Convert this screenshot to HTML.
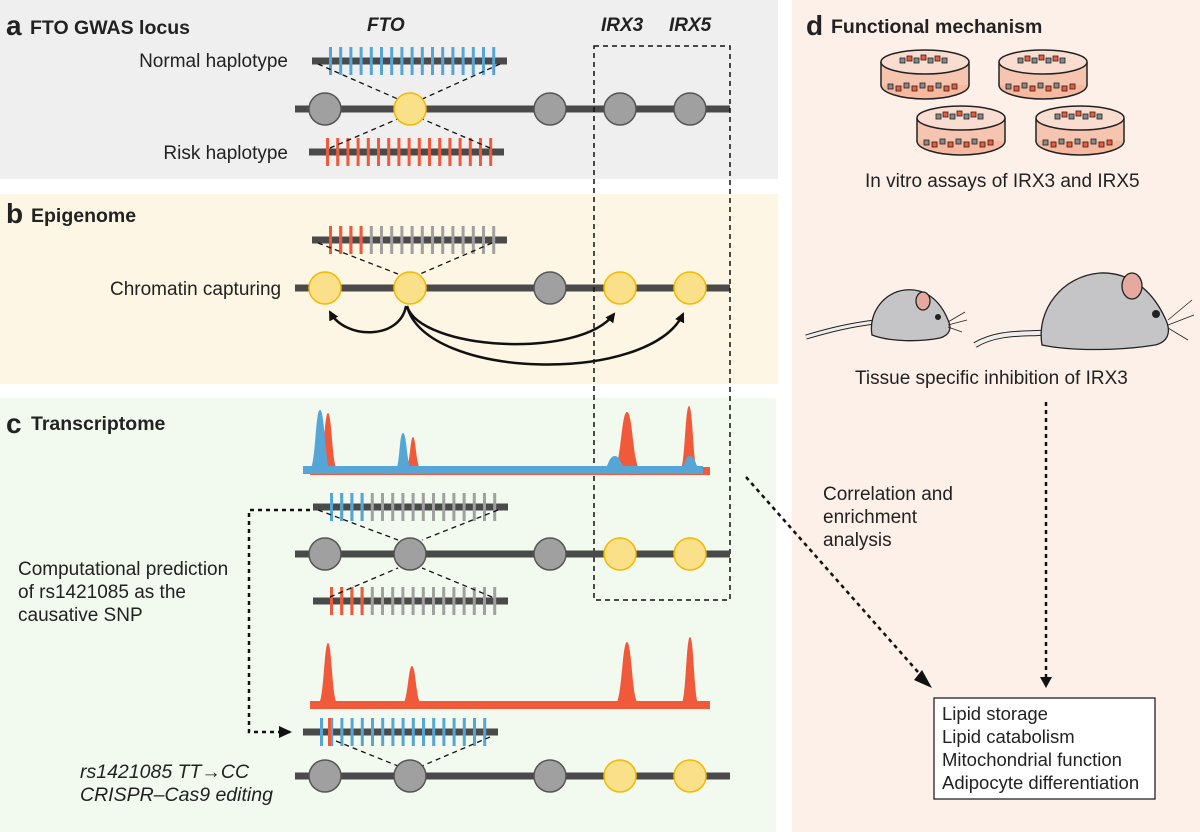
<!DOCTYPE html>
<html><head><meta charset="utf-8"><style>
html,body{margin:0;padding:0;background:#fff}
svg{display:block;font-family:"Liberation Sans",Arial,sans-serif}
</style></head><body>
<svg width="1200" height="832" viewBox="0 0 1200 832" xmlns="http://www.w3.org/2000/svg">
<defs>
<marker id="ah" markerWidth="10" markerHeight="10" refX="8" refY="5" orient="auto" markerUnits="userSpaceOnUse"><path d="M0,0 L10,5 L0,10 z" fill="#111"/></marker>
<marker id="ah2" markerWidth="14" markerHeight="14" refX="11" refY="7" orient="auto" markerUnits="userSpaceOnUse"><path d="M0,1 L13,7 L0,13 z" fill="#111"/></marker>
</defs>
<rect x="0" y="0" width="778" height="179" fill="#efefef"/>
<rect x="0" y="194" width="778" height="190" fill="#fdf6e4"/>
<rect x="0" y="398" width="776" height="434" fill="#f2f9ee"/>
<rect x="792" y="0" width="408" height="832" fill="#fdf0e8"/>

<!-- Panel a -->
<text x="6" y="35" font-size="28" font-weight="bold" fill="#222">a</text>
<text x="30" y="34" font-size="19.5" font-weight="bold" fill="#222">FTO GWAS locus</text>
<text x="367" y="31" font-size="19" font-weight="bold" font-style="italic" fill="#222">FTO</text>
<text x="601" y="31" font-size="19" font-weight="bold" font-style="italic" fill="#222">IRX3</text>
<text x="669" y="31" font-size="19" font-weight="bold" font-style="italic" fill="#222">IRX5</text>
<text x="288" y="67" font-size="19" fill="#222" text-anchor="end">Normal haplotype</text>
<text x="288" y="159" font-size="19" fill="#222" text-anchor="end">Risk haplotype</text>
<line x1="312" y1="61" x2="507" y2="61" stroke="#4a4a4a" stroke-width="7"/>
<line x1="329" y1="61" x2="496" y2="61" stroke="#55a6d6" stroke-width="28" stroke-dasharray="3 7.2"/>
<line x1="309" y1="152" x2="504" y2="152" stroke="#4a4a4a" stroke-width="7"/>
<line x1="326" y1="152" x2="493" y2="152" stroke="#f05a3a" stroke-width="28" stroke-dasharray="3 7.2"/>
<g stroke="#111" stroke-width="1.3" stroke-dasharray="5 4" fill="none">
<path d="M318,64 L400,100 M500,64 L420,100 M330,148 L400,118 M490,148 L420,118"/>
</g>
<line x1="295" y1="109" x2="730" y2="109" stroke="#4a4a4a" stroke-width="7"/>
<g stroke="#555" stroke-width="1.5" fill="#a0a0a0">
<circle cx="325" cy="109" r="16"/><circle cx="550" cy="109" r="16"/><circle cx="620" cy="109" r="16"/><circle cx="690" cy="109" r="16"/>
</g>
<circle cx="410" cy="109" r="16" fill="#fbe08a" stroke="#f5b800" stroke-width="1.5"/>

<!-- Panel b -->
<text x="6" y="223" font-size="28" font-weight="bold" fill="#222">b</text>
<text x="31" y="222" font-size="19.5" font-weight="bold" fill="#222">Epigenome</text>
<text x="110" y="295" font-size="19" fill="#222">Chromatin capturing</text>
<line x1="312" y1="240" x2="507" y2="240" stroke="#4a4a4a" stroke-width="7"/>
<line x1="329" y1="240" x2="496" y2="240" stroke="#a0a0a0" stroke-width="28" stroke-dasharray="3 7.2"/>
<line x1="329" y1="240" x2="363" y2="240" stroke="#f05a3a" stroke-width="28" stroke-dasharray="3 7.2"/>
<g stroke="#111" stroke-width="1.3" stroke-dasharray="5 4" fill="none">
<path d="M318,243 L398,274 M492,243 L420,274"/>
</g>
<line x1="295" y1="288" x2="730" y2="288" stroke="#4a4a4a" stroke-width="7"/>
<g stroke="#f5b800" stroke-width="1.5" fill="#fbe08a">
<circle cx="325" cy="288" r="16"/><circle cx="410" cy="288" r="16"/><circle cx="620" cy="288" r="16"/><circle cx="690" cy="288" r="16"/>
</g>
<circle cx="550" cy="288" r="16" fill="#a0a0a0" stroke="#555" stroke-width="1.5"/>
<g stroke="#111" stroke-width="2.5" fill="none">
<path d="M406,306 C400,340 345,340 330,312" marker-end="url(#ah)"/>
<path d="M407,306 C420,350 580,360 614,314" marker-end="url(#ah)"/>
<path d="M407,306 C425,380 650,385 683,314" marker-end="url(#ah)"/>
</g>

<rect x="594" y="46" width="136" height="554" fill="none" stroke="#111" stroke-width="1.5" stroke-dasharray="5 4"/>

<!-- Panel c -->
<text x="6" y="433" font-size="28" font-weight="bold" fill="#222">c</text>
<text x="31" y="430" font-size="19.5" font-weight="bold" fill="#222">Transcriptome</text>
<g fill="#f05a3a">
<rect x="310" y="467" width="400" height="8"/>
<path d="M318,470 C324,470 324,413 328,413 C332,413 332,470 338,470 z"/>
<path d="M405,470 C410,470 410,437 413,437 C416,437 416,470 422,470 z"/>
<path d="M613,470 C621,470 621,412 627,412 C633,412 633,470 641,470 z"/>
<path d="M680,470 C685,470 685,406 689,406 C693,406 693,470 698,470 z"/>
</g>
<g fill="#55a6d6">
<rect x="303" y="466" width="400" height="8"/>
<path d="M309,470 C316,470 315,410 320,410 C325,410 325,470 331,470 z"/>
<path d="M395,470 C400,470 399,433 403,433 C407,433 407,470 412,470 z"/>
<path d="M603,470 C608,470 608,456 615,456 C621,456 622,470 627,470 z"/>
<path d="M680,470 C685,470 684,456 690,456 C696,456 696,470 701,470 z"/>
</g>
<line x1="313" y1="507" x2="508" y2="507" stroke="#4a4a4a" stroke-width="7"/>
<line x1="330" y1="507" x2="497" y2="507" stroke="#a0a0a0" stroke-width="28" stroke-dasharray="3 7.2"/>
<line x1="330" y1="507" x2="364" y2="507" stroke="#55a6d6" stroke-width="28" stroke-dasharray="3 7.2"/>
<line x1="313" y1="601" x2="508" y2="601" stroke="#4a4a4a" stroke-width="7"/>
<line x1="330" y1="601" x2="497" y2="601" stroke="#a0a0a0" stroke-width="28" stroke-dasharray="3 7.2"/>
<line x1="330" y1="601" x2="364" y2="601" stroke="#f05a3a" stroke-width="28" stroke-dasharray="3 7.2"/>
<g stroke="#111" stroke-width="1.3" stroke-dasharray="5 4" fill="none">
<path d="M318,510 L398,540 M498,510 L422,540 M330,597 L398,568 M492,597 L422,568"/>
</g>
<line x1="295" y1="554" x2="730" y2="554" stroke="#4a4a4a" stroke-width="7"/>
<g stroke="#555" stroke-width="1.5" fill="#a0a0a0">
<circle cx="325" cy="554" r="16"/><circle cx="410" cy="554" r="16"/><circle cx="550" cy="554" r="16"/>
</g>
<g stroke="#f5b800" stroke-width="1.5" fill="#fbe08a">
<circle cx="620" cy="554" r="16"/><circle cx="690" cy="554" r="16"/>
</g>
<text x="18" y="575" font-size="19" fill="#222">Computational prediction</text>
<text x="18" y="598" font-size="19" fill="#222">of rs1421085 as the</text>
<text x="18" y="621" font-size="19" fill="#222">causative SNP</text>
<g fill="#f05a3a">
<rect x="310" y="701" width="400" height="8"/>
<path d="M318,704 C324,704 324,643 328,643 C332,643 332,704 338,704 z"/>
<path d="M402,704 C408,704 408,666 412,666 C416,666 416,704 422,704 z"/>
<path d="M615,704 C622,704 622,642 627,642 C632,642 632,704 639,704 z"/>
<path d="M681,704 C686,704 686,637 690,637 C694,637 694,704 699,704 z"/>
</g>
<line x1="303" y1="732" x2="498" y2="732" stroke="#4a4a4a" stroke-width="7"/>
<line x1="320" y1="732" x2="487" y2="732" stroke="#55a6d6" stroke-width="28" stroke-dasharray="3 7.2"/>
<line x1="328" y1="732" x2="331" y2="732" stroke="#f05a3a" stroke-width="28"/>
<g stroke="#111" stroke-width="1.3" stroke-dasharray="5 4" fill="none">
<path d="M336,741 L398,766 M490,737 L422,766"/>
</g>
<line x1="295" y1="776" x2="730" y2="776" stroke="#4a4a4a" stroke-width="7"/>
<g stroke="#555" stroke-width="1.5" fill="#a0a0a0">
<circle cx="325" cy="776" r="16"/><circle cx="410" cy="776" r="16"/><circle cx="550" cy="776" r="16"/>
</g>
<g stroke="#f5b800" stroke-width="1.5" fill="#fbe08a">
<circle cx="620" cy="776" r="16"/><circle cx="690" cy="776" r="16"/>
</g>
<text x="80" y="778" font-size="19.5" font-style="italic" fill="#222">rs1421085  TT→CC</text>
<text x="80" y="801" font-size="19.5" font-style="italic" fill="#222">CRISPR–Cas9 editing</text>
<path d="M310,510 L249,510 L249,732 L290,732" fill="none" stroke="#111" stroke-width="2.5" stroke-dasharray="4 4" marker-end="url(#ah2)"/>

<!-- Panel d -->
<text x="806" y="35" font-size="28" font-weight="bold" fill="#222">d</text>
<text x="831" y="33" font-size="19.5" font-weight="bold" fill="#222">Functional mechanism</text>
<g id="dish" stroke="#222" stroke-width="1.5">
<ellipse cx="925" cy="85" rx="44" ry="14" fill="#f6b9a0"/>
<rect x="881" y="62" width="88" height="23" fill="#f6c5b0" stroke="none"/>
<line x1="881" y1="62" x2="881" y2="85"/><line x1="969" y1="62" x2="969" y2="85"/>
<ellipse cx="925" cy="62" rx="44" ry="12" fill="#f9ddd0"/>
<g stroke-width="0.8">
<rect x="900" y="58" width="5" height="5" fill="#888"/><rect x="907" y="56" width="5" height="5" fill="#f05a3a"/><rect x="914" y="58" width="5" height="5" fill="#888"/><rect x="921" y="55" width="5" height="5" fill="#f05a3a"/><rect x="928" y="58" width="5" height="5" fill="#888"/><rect x="935" y="56" width="5" height="5" fill="#f05a3a"/><rect x="942" y="58" width="5" height="5" fill="#888"/>
<rect x="888" y="84" width="5" height="5" fill="#888"/><rect x="896" y="86" width="5" height="5" fill="#f05a3a"/><rect x="904" y="83" width="5" height="5" fill="#888"/><rect x="912" y="86" width="5" height="5" fill="#f05a3a"/><rect x="920" y="83" width="5" height="5" fill="#888"/><rect x="928" y="86" width="5" height="5" fill="#f05a3a"/><rect x="936" y="83" width="5" height="5" fill="#888"/><rect x="944" y="86" width="5" height="5" fill="#f05a3a"/><rect x="952" y="84" width="5" height="5" fill="#f05a3a"/>
</g>
</g>
<use href="#dish" x="118" y="0"/>
<use href="#dish" x="36" y="56"/>
<use href="#dish" x="155" y="56"/>
<text x="865" y="187" font-size="19" fill="#222">In vitro assays of IRX3 and IRX5</text>
<g stroke="#222" stroke-width="1.3">
<path d="M806,337 C830,330 850,325 875,322" fill="none" stroke="#222" stroke-width="5"/>
<path d="M806,337 C830,330 850,325 875,322" fill="none" stroke="#eee" stroke-width="3"/>
<path d="M872,335 C868,312 885,292 905,290 C925,288 940,300 948,320 C952,328 950,335 940,338 C920,342 890,342 872,335 z" fill="#c5c5c8"/>
<ellipse cx="923" cy="301" rx="7" ry="9" fill="#e5a9a0"/>
<circle cx="938" cy="317" r="3" fill="#222" stroke="none"/>
<path d="M948,322 L965,312 M948,325 L967,320 M948,327 L962,332" fill="none" stroke-width="0.8"/>
</g>
<g stroke="#222" stroke-width="1.3">
<path d="M975,345 C1000,330 1030,335 1050,332" fill="none" stroke="#222" stroke-width="6"/>
<path d="M975,345 C1000,330 1030,335 1050,332" fill="none" stroke="#eee" stroke-width="4"/>
<path d="M1042,345 C1036,310 1062,276 1100,273 C1130,272 1152,290 1165,318 C1172,332 1168,342 1155,345 C1125,350 1075,352 1042,345 z" fill="#c5c5c8"/>
<ellipse cx="1132" cy="286" rx="10" ry="13" fill="#e5a9a0"/>
<circle cx="1156" cy="314" r="4" fill="#222" stroke="none"/>
<path d="M1168,320 L1192,300 M1168,325 L1194,315 M1168,328 L1188,340" fill="none" stroke-width="0.8"/>
</g>
<text x="855" y="384" font-size="19" fill="#222">Tissue specific inhibition of IRX3</text>
<line x1="1046" y1="402" x2="1046" y2="680" stroke="#111" stroke-width="2.5" stroke-dasharray="4 4"/>
<path d="M1040,677 L1052,677 L1046,688 z" fill="#111"/>
<text x="823" y="500" font-size="19" fill="#222">Correlation and</text>
<text x="823" y="523" font-size="19" fill="#222">enrichment</text>
<text x="823" y="546" font-size="19" fill="#222">analysis</text>
<line x1="746" y1="477" x2="925" y2="680" stroke="#111" stroke-width="2.5" stroke-dasharray="4 4"/>
<path d="M922,670 L932,688 L914,680 z" fill="#111"/>
<rect x="934" y="698" width="221" height="101" fill="#fff" stroke="#222" stroke-width="1.3"/>
<text x="942" y="720" font-size="18.5" fill="#222">Lipid storage</text>
<text x="942" y="743" font-size="18.5" fill="#222">Lipid catabolism</text>
<text x="942" y="766" font-size="18.5" fill="#222">Mitochondrial function</text>
<text x="942" y="789" font-size="18.5" fill="#222">Adipocyte differentiation</text>
</svg>
</body></html>
